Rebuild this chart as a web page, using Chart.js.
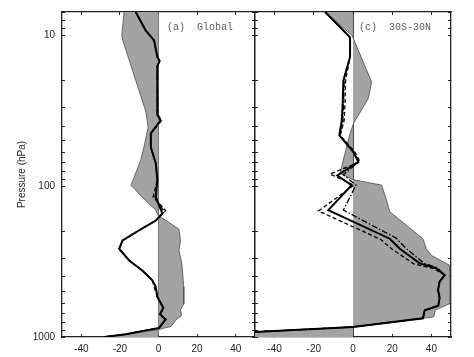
<!DOCTYPE html>
<html>
<head>
<meta charset="utf-8">
<script src="https://cdn.jsdelivr.net/npm/chart.js@4/dist/chart.umd.min.js"></script>
<style>
  html, body { margin: 0; padding: 0; background: #fff; }
  #wrap { position: relative; width: 474px; height: 357px; overflow: hidden; background: #fff; }
  #cA { position: absolute; left: 0; top: 0; }
  #cC { position: absolute; left: 250px; top: 0; }
</style>
</head>
<body>
<div id="wrap">
  <canvas id="cA" width="256" height="357"></canvas>
  <canvas id="cC" width="224" height="357"></canvas>
</div>
<script>
// ---------- axis ticks ----------
const pressureTicks = [7, 8, 9, 10, 20, 30, 40, 50, 60, 70, 80, 90, 100, 200, 300, 400, 500, 600, 700, 800, 900, 1000];
const labelledPressures = [10, 100, 1000];
const xTickValues = [-40, -20, 0, 20, 40];
const panelTitles = ['(a)  Global', '(c)  30S-30N'];
const yAxisTitle = 'Pressure (hPa)';

// ---------- panel (a) Global ----------
const globalShadeP = [7, 10, 10.8, 15.1, 19.9, 31.8, 40.7, 51.9, 67.3, 87.1, 98.4, 118, 144, 158, 168, 193, 228, 266, 328, 467, 603, 663, 720, 760, 850, 893, 959, 1000];
const globalShadeV = [-17.8, -19, -18.5, -14.8, -11.8, -6.6, -5.4, -7.1, -9.2, -12.6, -14.3, -8.5, -1.5, 0, 3.7, 10.6, 11.4, 10.6, 12.1, 13.1, 13.1, 11.4, 12, 9.5, 6.5, 0, -17, -28];

const globalSolidP = [7, 9.3, 10.8, 13.9, 14.8, 16, 33.5, 36.7, 44.7, 55, 70.6, 91, 118, 152, 169, 196, 229, 260, 311, 362, 421, 467, 543, 640, 708, 765, 870, 959, 1000];
const globalSolidV = [-11.8, -6.6, -2.3, -0.6, 0.6, -0.6, -0.6, 1.1, -4, -4, -1.4, -0.6, -1.4, 2, -1.4, -10, -18.6, -20.4, -15.2, -8.4, -3.2, -1.4, -0.6, 2.5, 0.8, 3.7, 0.3, -17, -28];

const globalDashP = [7, 9.3, 10.8, 13.9, 14.8, 16, 33.5, 36.7, 44.7, 55, 70.6, 91, 118, 145, 169, 196, 229, 260, 311, 362, 421, 467, 543, 640, 708, 765, 870, 959, 1000];
const globalDashV = [-11.8, -6.6, -2.3, -0.6, 0.6, -0.6, -0.4, 1.6, -4, -4, -1.4, -0.6, -2.8, 3.7, -1.4, -10, -18.6, -20.4, -15.2, -8.4, -3.2, -2.2, -0.6, 2.5, 0.8, 3.7, 0.3, -17, -28];

const globalDotDashP = [7, 9.3, 10.8, 13.9, 14.8, 16, 33.5, 36.7, 44.7, 55, 70.6, 91, 118, 148, 169, 196, 229, 260, 311, 362, 421, 467, 543, 640, 708, 765, 870, 959, 1000];
const globalDotDashV = [-11.8, -6.6, -2.3, -0.6, 0.6, -0.6, -0.6, 1.1, -4, -4, -1.4, -0.6, -1.8, 3, -1.4, -10, -18.6, -20.4, -15.2, -8.4, -3.2, -1.4, -0.6, 2.5, 0.8, 3.7, 0.3, -17, -28];

// ---------- panel (c) 30S-30N ----------
const tropShadeP = [7, 10, 20.4, 26.2, 38.5, 44.7, 60.6, 82, 90.5, 98.4, 115, 148, 223, 260, 288, 335, 600, 663, 735, 752, 858, 925, 1000];
const tropShadeV = [-14.2, -0.5, 9.5, 7.8, 0.2, -1.5, -4.1, -6.6, 0, 14.6, 16.3, 18.8, 35.7, 37.4, 40, 49.3, 49.5, 42, 41.2, 35.7, 0, -50, -105];

const tropSolidP = [7, 10.3, 13.9, 19.9, 26.9, 36.6, 46, 59.4, 68.9, 85, 98.4, 144, 223, 260, 325, 350, 389, 430, 487, 550, 620, 665, 752, 858, 925, 1000];
const tropSolidV = [-14.2, -1.5, -1.5, -4.9, -5.2, -5.7, -7, 0.2, 2.7, -8, -0.7, -12.6, 18.8, 23.9, 34, 42.5, 46.8, 44.2, 43.4, 44.2, 43.5, 36.6, 35.7, 0, -50, -105];

const tropDashP = [7, 10.3, 13.9, 19.9, 26.9, 36.6, 46, 59.4, 69, 83, 98.4, 146, 225, 262, 327, 352, 389, 430, 487, 550, 620, 665, 752, 858, 925, 1000];
const tropDashV = [-14.2, -1.5, -1.5, -3.8, -4, -4.5, -6.5, 1, 3.6, -11.7, 0.5, -17.6, 14, 20, 31, 41, 46.8, 44.2, 43.4, 44.2, 43.5, 36.6, 35.7, 0, -50, -105];

const tropDotDashP = [7, 10.3, 13.9, 19.9, 26.9, 36.6, 46, 59.4, 69, 84, 98.4, 144, 221, 258, 323, 348, 389, 430, 487, 550, 620, 665, 752, 858, 925, 1000];
const tropDotDashV = [-14.2, -1.5, -1.5, -4.5, -4.8, -5.2, -6.8, 0.5, 3, -5, 1.5, -4.9, 22, 27, 36, 43, 46.8, 44.2, 43.4, 44.2, 43.5, 36.6, 35.7, 0, -50, -105];

// ---------- helpers ----------
const pts = (vals, pres) => vals.map((v, i) => ({ x: v, y: pres[i] }));
const SANS = '"Liberation Sans", Arial, Helvetica, sans-serif';
const MONO = '"Liberation Mono", "DejaVu Sans Mono", monospace';
const AXIS_COLOR = '#222';

const panelLabelPlugin = {
  id: 'panelLabel',
  afterDraw(chart, args, opts) {
    const { ctx, chartArea } = chart;
    ctx.save();
    ctx.font = '10px ' + MONO;
    ctx.fillStyle = opts.color;
    ctx.textAlign = 'right';
    ctx.textBaseline = 'middle';
    ctx.fillText(opts.text, chartArea.right - opts.offsetRight, chartArea.top + opts.offsetTop);
    ctx.restore();
  }
};

function datasets(shadeV, shadeP, solidV, solidP, dashV, dashP, ddV, ddP) {
  return [
    { data: pts(solidV, solidP), borderColor: '#000', borderWidth: 2, fill: false, order: 1 },
    { data: pts(dashV, dashP), borderColor: '#000', borderWidth: 1.3, borderDash: [4, 2.5], fill: false, order: 2 },
    { data: pts(ddV, ddP), borderColor: '#000', borderWidth: 1.3, borderDash: [6, 2, 1.5, 2], fill: false, order: 3 },
    { data: pts(shadeV, shadeP), borderColor: '#4a4a4a', borderWidth: 0.8, backgroundColor: '#a3a3a3', fill: { value: 0 }, order: 5 }
  ];
}

function fixSize(prop, size) {
  return s => {
    s[prop] = size;
    s.paddingTop = 0; s.paddingBottom = 0; s.paddingLeft = 0; s.paddingRight = 0;
  };
}

function panelOptions(cfg) {
  const xTicks = s => { s.ticks = xTickValues.map(v => ({ value: v })); };
  const yTicks = s => { s.ticks = pressureTicks.map(v => ({ value: v })); };
  return {
    responsive: false,
    animation: false,
    indexAxis: 'y',
    layout: { padding: 0 },
    elements: { point: { radius: 0, hoverRadius: 0 }, line: { tension: 0 } },
    plugins: {
      legend: { display: false },
      tooltip: { enabled: false },
      panelLabel: { text: cfg.title, color: '#5a5a5a', offsetRight: cfg.titleRight, offsetTop: 15 }
    },
    scales: {
      x: {
        axis: 'x', type: 'linear', position: 'bottom', min: -50, max: 50, z: 1,
        afterBuildTicks: xTicks,
        afterFit: fixSize('height', 20),
        ticks: { font: { family: SANS, size: 10 }, color: AXIS_COLOR, padding: 9, maxRotation: 0, autoSkip: false },
        grid: {
          drawOnChartArea: true, tickLength: -3, tickColor: AXIS_COLOR,
          color: c => (c.tick && c.tick.value === 0) ? '#4a4a4a' : 'rgba(0,0,0,0)', lineWidth: 1
        },
        border: { color: AXIS_COLOR, width: 1.3 }
      },
      xTop: {
        axis: 'x', type: 'linear', position: 'top', min: -50, max: 50,
        afterBuildTicks: xTicks,
        afterFit: fixSize('height', 12),
        ticks: { display: false },
        grid: { drawOnChartArea: false, tickLength: -3, color: AXIS_COLOR },
        border: { color: AXIS_COLOR, width: 1.3 }
      },
      y: {
        axis: 'y', type: 'logarithmic', position: 'left', reverse: true, min: 7, max: 1000,
        afterBuildTicks: yTicks,
        afterFit: fixSize('width', cfg.leftWidth),
        ticks: {
          display: cfg.showYLabels, autoSkip: false, padding: 10,
          font: { family: SANS, size: 10 }, color: AXIS_COLOR,
          callback: v => labelledPressures.includes(v) ? String(v) : ''
        },
        grid: { drawOnChartArea: false, tickLength: -3, color: AXIS_COLOR },
        border: { color: AXIS_COLOR, width: 1.3 },
        title: {
          display: cfg.showYLabels, text: yAxisTitle, color: AXIS_COLOR,
          font: { family: SANS, size: 10 }, padding: { top: 16, bottom: 0 }
        }
      },
      yRight: {
        axis: 'y', type: 'logarithmic', position: 'right', reverse: true, min: 7, max: 1000,
        afterBuildTicks: yTicks,
        afterFit: fixSize('width', cfg.rightWidth),
        ticks: { display: false },
        grid: { drawOnChartArea: false, tickLength: -3, color: AXIS_COLOR },
        border: { color: AXIS_COLOR, width: 1.3 }
      }
    }
  };
}

new Chart(document.getElementById('cA'), {
  type: 'line',
  data: { datasets: datasets(globalShadeV, globalShadeP, globalSolidV, globalSolidP, globalDashV, globalDashP, globalDotDashV, globalDotDashP) },
  options: panelOptions({ title: panelTitles[0], titleRight: 22, showYLabels: true, leftWidth: 62, rightWidth: 1 }),
  plugins: [panelLabelPlugin]
});

new Chart(document.getElementById('cC'), {
  type: 'line',
  data: { datasets: datasets(tropShadeV, tropShadeP, tropSolidV, tropSolidP, tropDashV, tropDashP, tropDotDashV, tropDotDashP) },
  options: panelOptions({ title: panelTitles[1], titleRight: 20, showYLabels: false, leftWidth: 5, rightWidth: 23 }),
  plugins: [panelLabelPlugin]
});
</script>
</body>
</html>
